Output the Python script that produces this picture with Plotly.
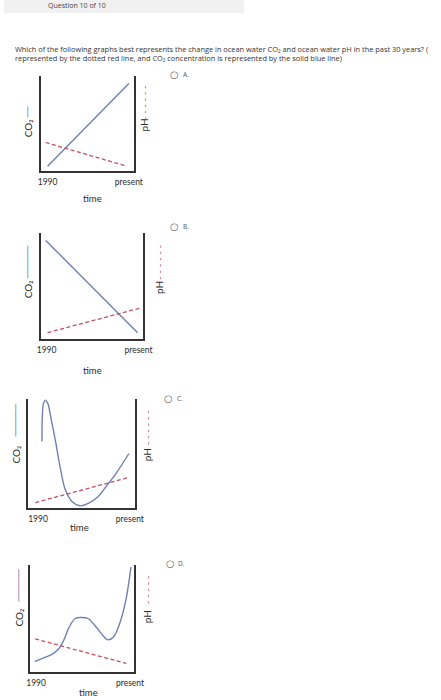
import plotly.graph_objects as go

W, H = 441, 700

# time axis labels
tick_years = [1990, 2020]
tick_labels = ['1990', 'present']

# option A: CO2 rises, pH falls (straight lines)
a_years = [1990, 2020]
a_co2 = [5, 92]
a_ph_years = [1989.3, 2019.3]
a_ph = [30, 5]

# option B: CO2 falls, pH rises
b_years = [1989.7, 2019.7]
b_co2 = [93, 6]
b_ph_years = [1990.3, 2020.3]
b_ph = [6, 29]

# option C: CO2 spikes then dips, pH rises
c_years = [1991.3, 1991.4, 1991.8, 1992.4, 1993.2, 1994.2, 1995.8, 1997.4,
           1998.9, 2001.1, 2003.7, 2006.3, 2009.5, 2012.6, 2015.8, 2019.7]
c_co2 = [61, 83, 96, 99, 96, 83, 60, 35, 17, 6, 2, 4, 10, 21, 33, 50]
c_ph_years = [1989.1, 2019.7]
c_ph = [5, 28]

# option D: CO2 wavy rise, pH falls
d_years = [1989.6, 1992.2, 1995.3, 1997.3, 1998.9, 2000.4, 2002.5, 2004.5,
           2006.6, 2009.2, 2011.7, 2013.0, 2014.8, 2016.9, 2018.8, 2020.3]
d_co2 = [10, 13, 17, 22, 30, 41, 50, 51, 50, 42, 33, 30, 33, 47, 69, 98]
d_ph_years = [1989.7, 2018.8]
d_ph = [31, 8]

options = ['A.', 'B.', 'C.', 'D.']
series = [
    (a_years, a_co2, a_ph_years, a_ph),
    (b_years, b_co2, b_ph_years, b_ph),
    (c_years, c_co2, c_ph_years, c_ph),
    (d_years, d_co2, d_ph_years, d_ph),
]

# pixel layout of each small graph (box = left, right, top, bottom)
panels = [
    dict(box=(38, 134, 76, 171), xr=[1987.5, 2021.8],
         co2=(25, 128), co2_key=(25, 112), co2_n=2,
         ph=(145, 125), ph_key=(145, 103), ph_n=6,
         time=(91, 198), circ=(176, 74), letter=(188, 74)),
    dict(box=(38, 144, 233, 339), xr=[1988.1, 2021.6],
         co2=(25, 289), co2_key=(25, 262), co2_n=6,
         ph=(160, 287), ph_key=(160, 262), ph_n=6,
         time=(91, 370), circ=(176, 226), letter=(188, 226)),
    dict(box=(25, 135, 399, 508), xr=[1986.8, 2021.6],
         co2=(12, 455), co2_key=(12, 421), co2_n=6,
         ph=(148, 455), ph_key=(148, 428), ph_n=6,
         time=(78, 527), circ=(170, 399), letter=(182, 399)),
    dict(box=(27, 134, 565, 672), xr=[1988.1, 2021.2],
         co2=(15, 618), co2_key=(15, 586), co2_n=6,
         ph=(148, 617), ph_key=(148, 590), ph_n=5,
         time=(87, 692), circ=(172, 563), letter=(183, 563)),
]

BLUE = '#6f80b2'
RED = '#c2505f'
AXIS = '#333333'
TXT = '#2b2b2b'
FONT = 'Lato'

fig = go.Figure()
annotations = []


def note(x, y, text, size, color=TXT, family=FONT, angle=0, xanchor='center'):
    annotations.append(dict(x=x / W, y=1 - y / H, xref='paper', yref='paper',
                            showarrow=False, text=text, textangle=angle,
                            xanchor=xanchor, yanchor='middle',
                            font=dict(family=family, size=size, color=color)))


for i, (p, (yrs, co2, ph_yrs, ph)) in enumerate(zip(panels, series)):
    n = i + 1
    xa = 'x' if n == 1 else f'x{n}'
    ya = 'y' if n == 1 else f'y{2 * n - 1}'
    ya2 = f'y{2 * n}'
    fig.add_trace(go.Scatter(x=yrs, y=co2, mode='lines', xaxis=xa, yaxis=ya,
                             line=dict(color=BLUE, width=1.4, shape='spline', smoothing=1.0),
                             showlegend=False, hoverinfo='skip'))
    fig.add_trace(go.Scatter(x=ph_yrs, y=ph, mode='lines', xaxis=xa, yaxis=ya2,
                             line=dict(color=RED, width=1.3, dash='4px,2.5px'),
                             showlegend=False, hoverinfo='skip'))

    l, r, t, b = p['box']
    xkey = 'xaxis' if n == 1 else f'xaxis{n}'
    ykey = 'yaxis' if n == 1 else f'yaxis{2 * n - 1}'
    y2key = f'yaxis{2 * n}'
    fig.layout[xkey] = dict(domain=[l / W, r / W], range=p['xr'], anchor=ya,
                            showline=True, linecolor=AXIS, linewidth=1.6,
                            showgrid=False, zeroline=False,
                            tickvals=tick_years, ticktext=tick_labels,
                            ticks='outside', ticklen=2, tickcolor='rgba(0,0,0,0)',
                            tickfont=dict(family=FONT, size=8.5, color=TXT))
    fig.layout[ykey] = dict(domain=[1 - b / H, 1 - t / H], range=[0, 100], anchor=xa,
                            showline=True, linecolor=AXIS, linewidth=1.6,
                            showgrid=False, zeroline=False, showticklabels=False)
    fig.layout[y2key] = dict(domain=[1 - b / H, 1 - t / H], range=[0, 100], anchor=xa,
                             overlaying=ya, side='right',
                             showline=True, linecolor=AXIS, linewidth=1.6,
                             showgrid=False, zeroline=False, showticklabels=False)

    # axis names with their little line keys
    note(*p['co2'], 'CO\u2082', 10, angle=-90)
    note(*p['co2_key'], '\u2500' * p['co2_n'], 9, color=BLUE, family='DejaVu Sans', angle=-90)
    note(*p['ph'], 'pH', 10, angle=-90)
    note(*p['ph_key'], ' '.join(['-'] * p['ph_n']), 10, color=RED, angle=-90)
    note(*p['time'], 'time', 9.5)
    # answer radio button
    note(*p['circ'], '\u25cb', 10, color='#666', family='DejaVu Sans')
    note(*p['letter'], options[i], 6.5, color='#555', family='Open Sans')

# header and question text
note(43, 6, 'Question 10 of 10', 7, color='#444', family='Open Sans', xanchor='left')
note(9, 49, 'Which of the following graphs best represents the change in ocean water CO\u2082 '
            'and ocean water pH in the past 30 years? (',
     7.4, color='#333', family='Open Sans', xanchor='left')
note(9, 58, 'represented by the dotted red line, and CO\u2082 concentration is represented '
            'by the solid blue line)',
     7.4, color='#333', family='Open Sans', xanchor='left')

fig.update_layout(
    width=W, height=H,
    margin=dict(l=0, r=0, t=0, b=0),
    paper_bgcolor='white', plot_bgcolor='white',
    annotations=annotations,
    shapes=[dict(type='rect', xref='paper', yref='paper', x0=0, x1=248 / W,
                 y0=1 - 13 / H, y1=1, fillcolor='#f1f1f1', line=dict(width=0), layer='below')],
)

fig.write_html("out.html", config={'displayModeBar': False},
               post_script="document.body.style.margin='0';")
